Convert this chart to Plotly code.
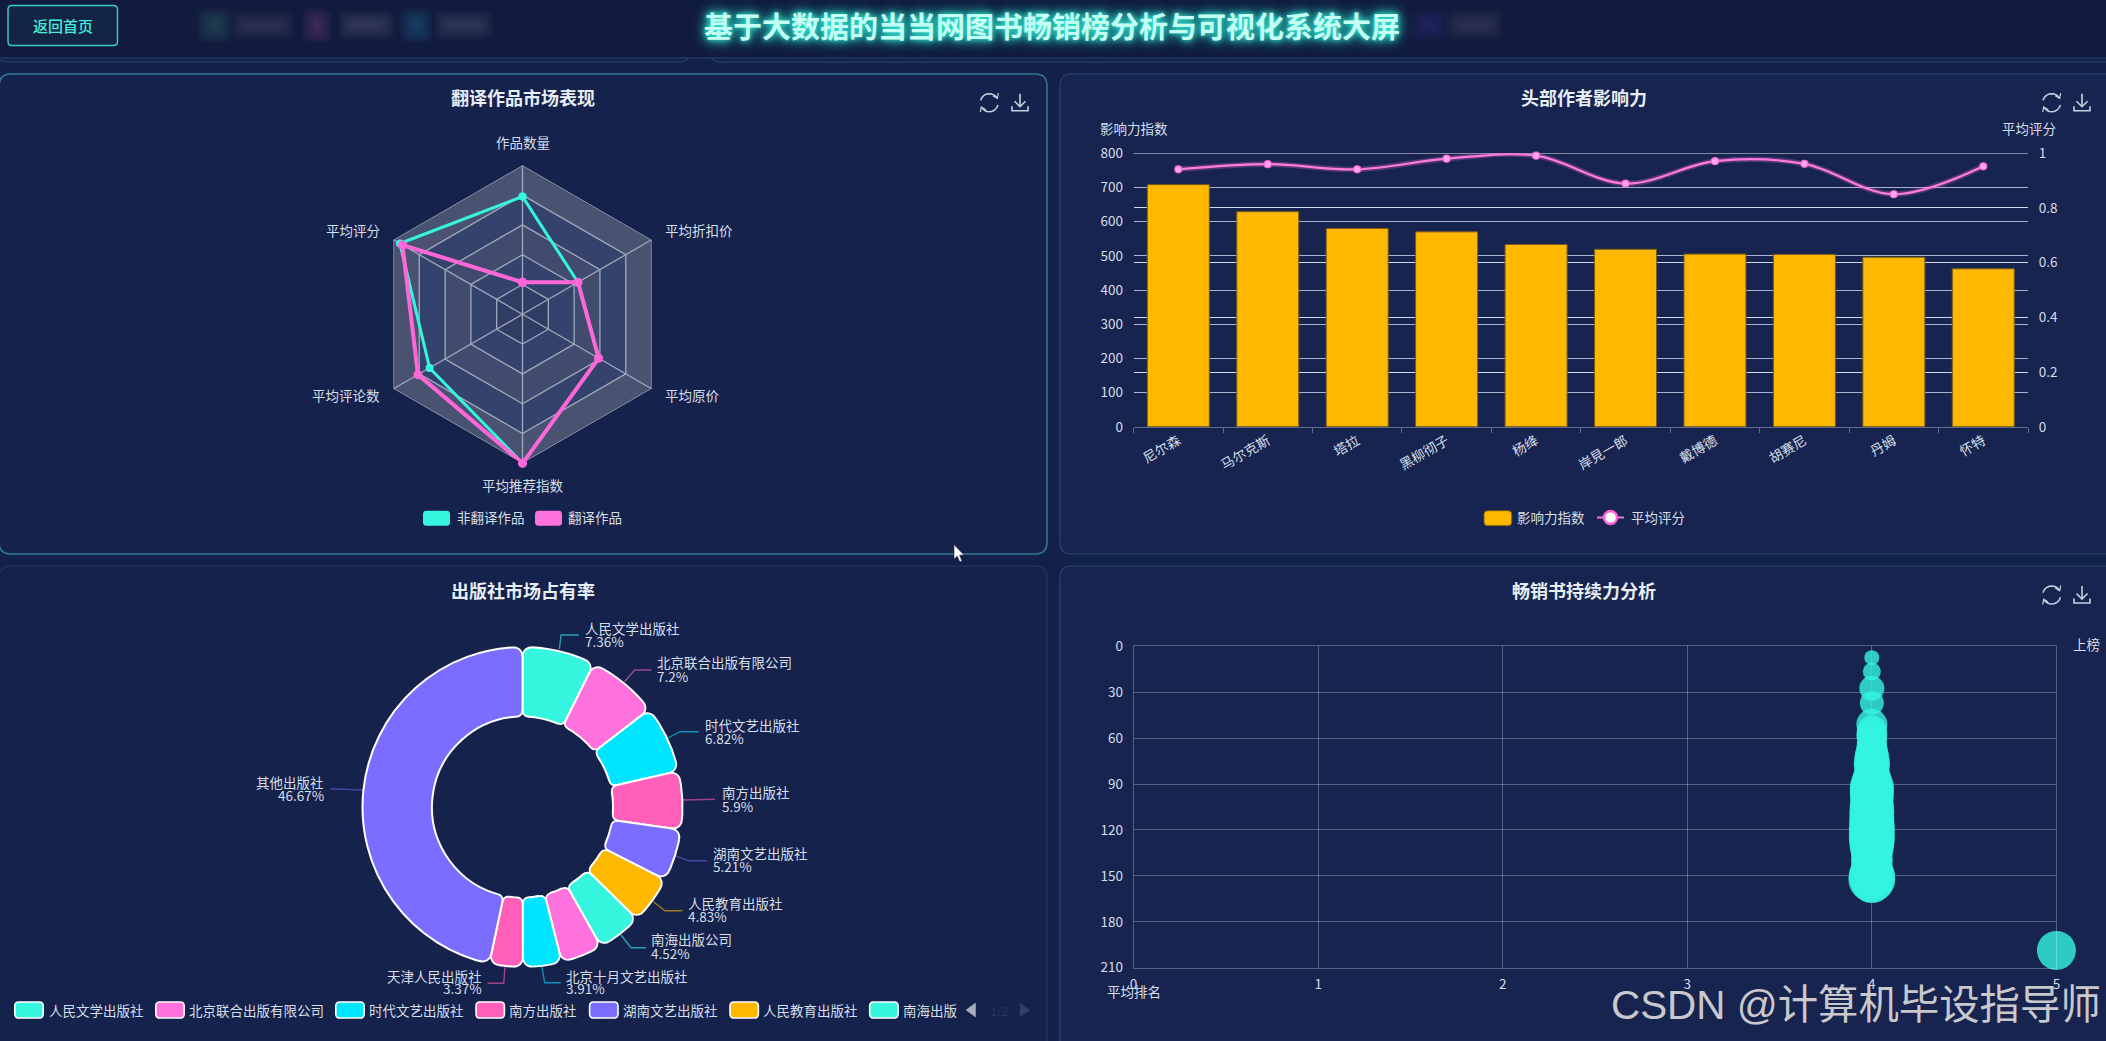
import math
import plotly.graph_objects as go

W, H = 2106, 1041
FONT = "Noto Sans CJK SC"

# ---------- data ----------
RADAR_AXES = ["作品数量", "平均折扣价", "平均原价", "平均推荐指数", "平均评论数", "平均评分"]
NON_TRANSLATED = [0.79, 0.43, 0.59, 1.0, 0.72, 0.95]
TRANSLATED = [0.215, 0.43, 0.59, 1.0, 0.81, 0.93]
RADAR_LEVELS = [1.0, 0.8, 0.6, 0.4, 0.2]

AUTHORS = ["尼尔森", "马尔克斯", "塔拉", "黑柳彻子", "杨绛", "岸見一郎", "戴博德", "胡赛尼", "丹姆", "怀特"]
INFLUENCE = [708, 629, 580, 570, 533, 519, 505, 504, 496, 462]
AVG_RATING = [0.941, 0.96, 0.941, 0.98, 0.991, 0.889, 0.971, 0.961, 0.85, 0.952]

PUBLISHERS = ["人民文学出版社", "北京联合出版有限公司", "时代文艺出版社", "南方出版社", "湖南文艺出版社",
              "人民教育出版社", "南海出版公司", "未标注出版社", "北京十月文艺出版社", "天津人民出版社", "其他出版社"]
SHARES = [7.36, 7.2, 6.82, 5.9, 5.21, 4.83, 4.52, 4.21, 3.91, 3.37, 46.67]

BUBBLE_WEEKS = [4] * 38 + [5]
BUBBLE_RANK = [7.4, 16.5, 27.4, 37, 51, 55, 58, 60, 63, 66.7, 70, 73, 76.5, 78, 85, 88, 92, 94, 97, 100, 102.6,
               105, 108, 112, 114.6, 118, 122, 125.5, 128, 131, 133, 136, 140, 142, 146, 150, 152, 154, 198.7]
BUBBLE_SIZE = [15, 18, 25, 24, 31, 30, 31, 30, 30, 31, 33, 35, 36, 36, 37, 40, 44, 44, 44, 43, 43,
               44, 45, 45, 45, 46, 46, 46, 45, 44, 42, 41, 42, 40, 42, 46, 47, 42, 39]

# ---------- styles ----------
TEAL, PINK, CYAN, HOT, PURPLE, GOLD = "#36f5de", "#ff72de", "#00e5ff", "#ff5fb8", "#7b6dff", "#ffb800"
PIE_COLORS = [TEAL, PINK, CYAN, HOT, PURPLE, GOLD, TEAL, PINK, CYAN, HOT, PURPLE]
TXT = "#d5dfe9"
PANEL = "#15224b"
PANEL_R = "#17244f"


def X(v):
    return v / W


def Y(v):
    return 1 - v / H


def P(v):
    return f"{X(v[0]):.5f},{Y(v[1]):.5f}"


shapes, annotations = [], []


def rrect(x0, y0, x1, y1, r, fill="rgba(0,0,0,0)", line=None, lw=1, opacity=1, layer="below"):
    d = (f"M {P((x0 + r, y0))} L {P((x1 - r, y0))} Q {P((x1, y0))} {P((x1, y0 + r))} "
         f"L {P((x1, y1 - r))} Q {P((x1, y1))} {P((x1 - r, y1))} L {P((x0 + r, y1))} "
         f"Q {P((x0, y1))} {P((x0, y1 - r))} L {P((x0, y0 + r))} Q {P((x0, y0))} {P((x0 + r, y0))} Z")
    shapes.append(dict(type="path", path=d, xref="paper", yref="paper", fillcolor=fill, opacity=opacity,
                       line=dict(color=line or "rgba(0,0,0,0)", width=lw if line else 0), layer=layer))


def poly(pts, color, lw=1.5, fill=None, close=False, layer="below", opacity=1):
    d = "M " + " L ".join(P(p) for p in pts) + (" Z" if close else "")
    shapes.append(dict(type="path", path=d, xref="paper", yref="paper", opacity=opacity,
                       fillcolor=fill or "rgba(0,0,0,0)",
                       line=dict(color=color, width=lw), layer=layer))


def text(t, x, y, size=13.5, color=TXT, anchor="left", weight=400, shadow=None, family=FONT):
    f = dict(family=family, size=size, color=color, weight=weight)
    if shadow:
        f["shadow"] = shadow
    annotations.append(dict(text=t, x=X(x), y=Y(y), xref="paper", yref="paper", showarrow=False,
                            xanchor=anchor, yanchor="middle", font=f, borderpad=0, borderwidth=0))


def blur(x0, y0, x1, y1, color):
    for k in range(8):
        rrect(x0 + k * 2 - 7, y0 + k * 2 - 7, x1 - k * 2 + 7, y1 - k * 2 + 7, 7, fill=color, opacity=0.075)


def icons(yc, xr, xd):
    r = 9
    col = "#c6d2df"
    for a0, a1 in ((195, 330), (15, 150)):
        pts = [(xr + r * math.cos(math.radians(a)), yc + r * math.sin(math.radians(a)))
               for a in range(a0, a1 + 1, 15)]
        poly(pts, col, 1.5, layer="above")
    poly([(xr + 3.5, yc - 7), (xr + 8, yc - 4.3), (xr + 9, yc - 9.5)], col, 1.2, layer="above")
    poly([(xr - 3.5, yc + 7), (xr - 8, yc + 4.3), (xr - 9, yc + 9.5)], col, 1.2, layer="above")
    poly([(xd, yc - 9), (xd, yc + 4)], col, 1.6, layer="above")
    poly([(xd - 5.5, yc - 1.5), (xd, yc + 4), (xd + 5.5, yc - 1.5)], col, 1.6, layer="above")
    poly([(xd - 8, yc + 3.5), (xd - 8, yc + 8), (xd + 8, yc + 8), (xd + 8, yc + 3.5)], col, 1.6, layer="above")


# ---------- frame ----------
rrect(-2, -30, 688, 62, 8, line="#24456e", lw=1.2)
rrect(711, -30, 2140, 62, 8, line="#24456e", lw=1.2)
shapes.append(dict(type="rect", xref="paper", yref="paper", x0=0, x1=1, y0=Y(58), y1=1,
                   fillcolor="#111b3d", line=dict(width=0), layer="below"))
poly([(0, 58), (W, 58)], "#26466f", 1.2)
rrect(-1, 74, 1047, 554, 12, fill=PANEL, line="#2f7a96", lw=1.5)
rrect(1060, 74, 2130, 554, 12, fill=PANEL_R, line="#24456e", lw=1.2)
rrect(-1, 566, 1047, 1070, 12, fill=PANEL, line="#22395f", lw=1.2)
rrect(1060, 566, 2130, 1070, 12, fill=PANEL_R, line="#24456e", lw=1.2)

rrect(8, 5.5, 117.5, 45.5, 4, fill="rgba(54,245,222,0.05)", line="#39cfd0", lw=1.4)
text("返回首页", 63, 25.5, size=15, color="#45ecdc", anchor="center", weight=500)
text("基于大数据的当当网图书畅销榜分析与可视化系统大屏", 1051.5, 25, size=29, color="#c4fff3",
     anchor="center", weight=700, shadow="0 0 5px #2fe8d2, 0 0 11px #2fd8c8, 0 0 16px #26b8b0")

for b in [(204, 15, 225, 36, "#3a6a70"), (238, 18, 287, 33, "#4a5670"), (309, 15, 325, 36, "#7a3f88"),
          (345, 17, 388, 33, "#586078"), (407, 15, 426, 36, "#246a90"), (441, 17, 486, 33, "#545a74"),
          (1417, 16, 1441, 34, "#363a88"), (1453, 17, 1496, 33, "#50546e")]:
    blur(*b)

# ---------- titles ----------
for t, x, y in [("翻译作品市场表现", 522.5, 97.5), ("头部作者影响力", 1583.6, 97.5),
                ("出版社市场占有率", 522.5, 590), ("畅销书持续力分析", 1584, 590)]:
    text(t, x, y, size=18, color="#e6eef4", anchor="center", weight=700)
icons(102.7, 989.3, 1020)
icons(102.7, 2051.7, 2082)
icons(595, 2051.7, 2082)

# ---------- radar axis labels ----------
RADAR_LABEL_POS = [("center", 522.5, 141.8), ("left", 665, 229.6), ("left", 665, 395.4),
                   ("center", 522.5, 485), ("right", 379.5, 395.4), ("right", 379.5, 229.6)]
for name, (anc, x, y) in zip(RADAR_AXES, RADAR_LABEL_POS):
    text(name, x, y, anchor=anc)

# ---------- legends drawn as in the reference ----------
rrect(423, 510.7, 450, 525.7, 3.5, fill=TEAL, layer="above")
text("非翻译作品", 456.7, 516.8)
rrect(535, 510.7, 562, 525.7, 3.5, fill=PINK, layer="above")
text("翻译作品", 567.5, 516.8)

rrect(1484, 510.7, 1511.7, 525.7, 3.5, fill=GOLD, line="#7a5c18", lw=1, layer="above")
text("影响力指数", 1517, 516.8)
poly([(1597, 517.5), (1624, 517.5)], PINK, 2, layer="above")
shapes.append(dict(type="circle", xref="paper", yref="paper", x0=X(1604), x1=X(1617), y0=Y(524), y1=Y(511),
                   fillcolor="#ffffff", line=dict(color="#ff5fd0", width=2.5), layer="above"))
text("平均评分", 1630.6, 516.8)

items = [(14.8, 49), (155.8, 189.4), (335.8, 369.4), (476, 509), (589.6, 622.6), (730, 763), (869.7, 903)]
for i, (sx, tx) in enumerate(items):
    rrect(sx, 1002, sx + 28.4, 1018, 4, fill=PIE_COLORS[i], line="#ffffff", lw=1.6, layer="above")
    text(PUBLISHERS[i] if i < 6 else PUBLISHERS[i][:4], tx, 1009.5)
poly([(975.5, 1003), (975.5, 1017), (966, 1010)], "#a7afbd", 0.5, fill="#a7afbd", close=True)
poly([(1020, 1003), (1020, 1017), (1029.5, 1010)], "#323e63", 0.5, fill="#323e63", close=True)
text("1/2", 998.6, 1010, size=12, color="#2b3659", anchor="center")

# ---------- pie callouts ----------
CALLOUTS = {
    0: ("left", 585, 628.3, 641, [(559.4, 649), (561, 635), (579, 635)], "#2c9fb0"),
    1: ("left", 657, 662.3, 676.3, [(624.6, 681.7), (634.6, 670), (651.5, 670)], "#9a4a92"),
    2: ("left", 704.5, 724.7, 737.7, [(668, 738), (680, 731.7), (698.5, 731.7)], "#0f8fb5"),
    3: ("left", 722, 792.3, 806, [(682.3, 800), (715, 799.3)], "#a04284"),
    4: ("left", 713, 853.3, 866, [(675, 855.7), (688.4, 860.7), (707, 860.7)], "#4a45a5"),
    5: ("left", 687.7, 902.7, 916, [(653.5, 901.7), (665, 910.7), (682.3, 910.7)], "#a2791b"),
    6: ("left", 651.4, 939, 952.7, [(621, 935), (631, 947.7), (646, 947.7)], "#2c9fb0"),
    8: ("left", 566, 975.7, 988.3, [(542, 967), (544.7, 982.7), (560.8, 982.7)], "#0f8fb5"),
    9: ("right", 481.5, 975.7, 988.3, [(505, 967), (503.7, 983.3), (487.6, 983.3)], "#a04284"),
    10: ("right", 323.7, 781.7, 795, [(362.7, 790), (330.4, 788.7)], "#4a45a5"),
}
for i, (anc, x, y1, y2, pts, col) in CALLOUTS.items():
    poly(pts, col, 1.4)
    text(PUBLISHERS[i], x, y1, anchor=anc)
    text(f"{SHARES[i]}%", x, y2, anchor=anc)

# ---------- rounded slice corners (notches over the pie at each slice boundary) ----------
CX, CY, R_OUT, R_IN = 522.5, 807, 160, 90.6


def polar_pt(r, deg):
    a = math.radians(deg)
    return (CX + r * math.sin(a), CY - r * math.cos(a))


def corner(rc, rho, a, s, rim):
    """Points from the tangent on the slice edge round to the tangent on the rim."""
    off = math.degrees(math.asin(rho / rc))
    c = polar_pt(rc, a + s * off)
    start = polar_pt(math.sqrt(rc * rc - rho * rho), a)
    end = polar_pt(rim, a + s * off)
    a0 = math.atan2(start[1] - c[1], start[0] - c[0])
    a1 = math.atan2(end[1] - c[1], end[0] - c[0])
    d = (a1 - a0 + math.pi) % (2 * math.pi) - math.pi
    return [(c[0] + rho * math.cos(a0 + d * t / 6), c[1] + rho * math.sin(a0 + d * t / 6)) for t in range(7)], off


cum = 0.0
for share in SHARES:
    ang = cum * 3.6
    cum += share
    for rim, rc, rho, beyond in ((R_OUT, R_OUT - 9, 9, R_OUT + 3), (R_IN, R_IN + 6, 6, R_IN - 3)):
        plus, off_p = corner(rc, rho, ang, 1, rim)
        minus, off_m = corner(rc, rho, ang, -1, rim)
        mask = plus + [polar_pt(beyond, ang + off_p), polar_pt(beyond, ang - off_m)] + minus[::-1]
        poly(mask, PANEL, 0, fill=PANEL, close=True, layer="above")
        poly(minus[::-1] + plus[1:], "#ffffff", 1.8, layer="above")

# ---------- axis names ----------
text("影响力指数", 1133.6, 128, anchor="center")
text("平均评分", 2029, 128, anchor="center")
text("平均排名", 1133.6, 990.7, anchor="center")
text("上榜", 2086, 644, anchor="center")

# ---------- watermark & cursor ----------
text("CSDN @计算机毕设指导师", 2101, 1005, size=40.4, color="#c9c9cd", anchor="right",
     family="Liberation Sans, Noto Sans CJK SC")
poly([(954, 544.6), (954, 559), (957.3, 556.2), (959.8, 562), (962, 561), (959.6, 555.3), (964, 555)],
     "#20283f", 0.6, fill="#ffffff", close=True, layer="above")

# ---------- top gridlines sitting exactly on the axis ends ----------
shapes.append(dict(type="line", xref="x domain", yref="y", x0=0, x1=1, y0=800, y1=800,
                   line=dict(color="#d4d9ee", width=1.3), layer="below"))

# ---------- traces ----------
fig = go.Figure()

BAND_FILL = ["#4a5272", "#34436b", "#414b6e", "#34436b", "#2f3c63"]
closed_axes = RADAR_AXES + RADAR_AXES[:1]
for lvl, c in zip(RADAR_LEVELS, BAND_FILL):
    fig.add_trace(go.Scatterpolar(r=[lvl] * 7, theta=closed_axes, mode="lines", fill="toself", fillcolor=c,
                                  line=dict(color="#a3a9bd", width=1.3), hoverinfo="skip", subplot="polar"))
for a in RADAR_AXES:
    fig.add_trace(go.Scatterpolar(r=[0, 1], theta=[a, a], mode="lines", line=dict(color="#a3a9bd", width=1.3),
                                  hoverinfo="skip", subplot="polar"))
fig.add_trace(go.Scatterpolar(r=NON_TRANSLATED + NON_TRANSLATED[:1], theta=closed_axes, name="非翻译作品",
                              mode="lines+markers", line=dict(color=TEAL, width=3), marker=dict(size=8, color=TEAL),
                              cliponaxis=False, subplot="polar"))
fig.add_trace(go.Scatterpolar(r=TRANSLATED + TRANSLATED[:1], theta=closed_axes, name="翻译作品",
                              mode="lines+markers", line=dict(color="#ff66d8", width=4),
                              marker=dict(size=9, color="#ff66d8"), cliponaxis=False, subplot="polar"))

fig.add_trace(go.Bar(x=AUTHORS, y=INFLUENCE, name="影响力指数", xaxis="x", yaxis="y",
                     marker=dict(color=GOLD, line=dict(color="#7a5c18", width=1))))
fig.add_trace(go.Scatter(x=AUTHORS, y=AVG_RATING, xaxis="x", yaxis="y2", mode="lines", hoverinfo="skip",
                         line=dict(color="rgba(255,100,215,0.28)", width=5.5, shape="spline", smoothing=1.0)))
fig.add_trace(go.Scatter(x=AUTHORS, y=AVG_RATING, name="平均评分", xaxis="x", yaxis="y2", mode="lines+markers",
                         line=dict(color="#ff7cdc", width=2.2, shape="spline", smoothing=1.0),
                         marker=dict(size=7, color="#ffa8ea", line=dict(color="#ff6ad5", width=1.2)),
                         cliponaxis=False))

fig.add_trace(go.Pie(labels=PUBLISHERS, values=SHARES, hole=0.566, sort=False, direction="clockwise", rotation=0,
                     textinfo="none", marker=dict(colors=PIE_COLORS, line=dict(color="#ffffff", width=2)),
                     domain=dict(x=[X(CX - R_OUT), X(CX + R_OUT)], y=[Y(CY + R_OUT), Y(CY - R_OUT)]),
                     showlegend=False))

fig.add_trace(go.Scatter(x=BUBBLE_WEEKS, y=BUBBLE_RANK, xaxis="x3", yaxis="y3", mode="markers", cliponaxis=False,
                         marker=dict(size=BUBBLE_SIZE, sizemode="diameter", color="rgba(51,245,222,0.8)",
                                     opacity=1, line=dict(width=0))))

tick_font = dict(family=FONT, size=13.5, color=TXT)
GRID_DIM = "rgba(255,255,255,0.27)"

fig.update_layout(
    width=W, height=H, autosize=False, showlegend=False, margin=dict(l=0, r=0, t=0, b=0, autoexpand=False),
    paper_bgcolor="#13204a", plot_bgcolor="rgba(0,0,0,0)", font=dict(family=FONT, color=TXT),
    bargap=0.307, shapes=shapes, annotations=annotations,
    polar=dict(
        domain=dict(x=[X(373.5), X(671.5)], y=[Y(463.3), Y(165.3)]),
        bgcolor="rgba(0,0,0,0)",
        angularaxis=dict(type="category", categoryorder="array", categoryarray=RADAR_AXES, direction="clockwise",
                         rotation=90, showticklabels=False, showgrid=False, showline=False, ticks=""),
        radialaxis=dict(range=[0, 1], tickvals=RADAR_LEVELS, showticklabels=False, showline=False, ticks="",
                        showgrid=False),
        gridshape="linear",
    ),
    xaxis=dict(domain=[X(1133.6), X(2028)], anchor="y", type="category", range=[-0.5, 9.5], tickangle=-30,
               tickfont=tick_font, tickson="boundaries", ticks="outside", ticklen=5, tickcolor="#616c8e",
               showgrid=False, showline=True, linecolor="#616c8e", linewidth=1.3),
    yaxis=dict(domain=[Y(426.8), Y(153.2)], anchor="x", range=[0, 800], dtick=100, tickfont=tick_font,
               showgrid=True, gridcolor="#aab3d0", gridwidth=1.3, zeroline=False, ticks="outside", ticklen=7,
               tickcolor="rgba(0,0,0,0)", showline=False),
    yaxis2=dict(domain=[Y(426.8), Y(153.2)], anchor="x", overlaying="y", side="right", range=[0, 1], dtick=0.2,
                tickformat="~g", tickfont=tick_font, showgrid=True, gridcolor="#d4d9ee", gridwidth=1.3,
                zeroline=False, ticks="outside", ticklen=7, tickcolor="rgba(0,0,0,0)", showline=False),
    xaxis3=dict(domain=[X(1133.6), X(2056.4)], anchor="y3", range=[0, 5], dtick=1, tickfont=tick_font,
                showgrid=True, gridcolor=GRID_DIM, gridwidth=1, zeroline=False, showline=True, mirror=True,
                linecolor=GRID_DIM, ticks="outside", ticklen=4, tickcolor="rgba(0,0,0,0)"),
    yaxis3=dict(domain=[Y(967.7), Y(646.3)], anchor="x3", range=[210, 0], dtick=30, tickfont=tick_font,
                showgrid=True, gridcolor=GRID_DIM, gridwidth=1, zeroline=False, showline=True, mirror=True,
                linecolor=GRID_DIM, ticks="outside", ticklen=7, tickcolor="rgba(0,0,0,0)"),
)

fig.write_html("out.html", config=dict(displayModeBar=False),
               post_script="document.body.style.margin='0';document.documentElement.style.overflow='hidden';"
                           "document.body.style.background='#13204a';")
